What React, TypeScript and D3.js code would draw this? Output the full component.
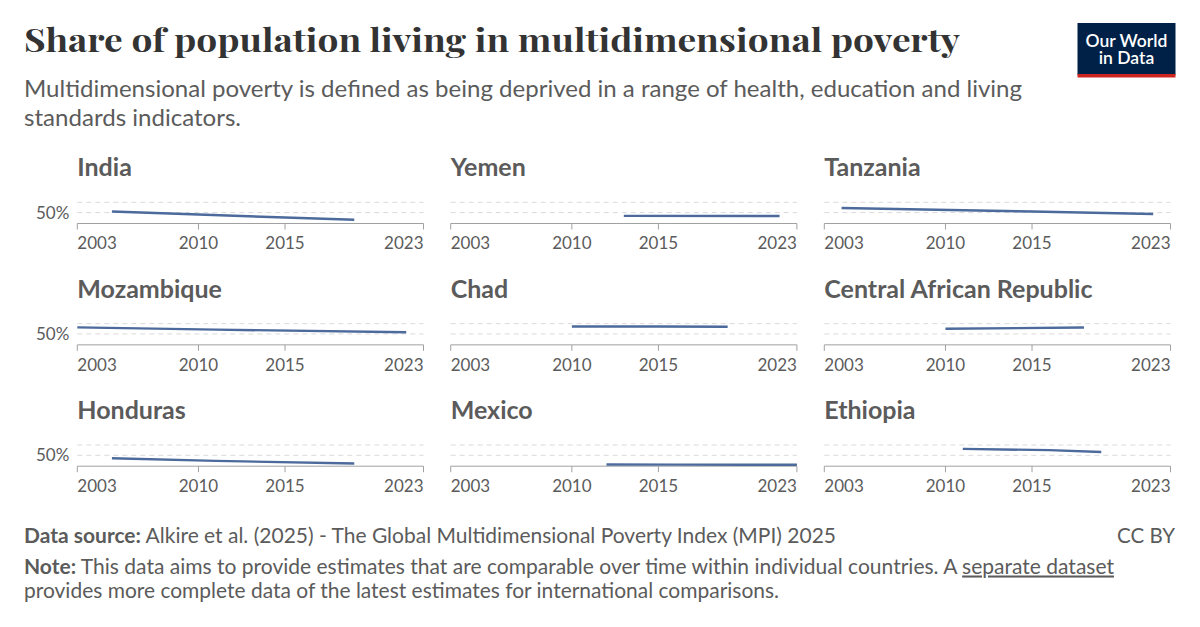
import { line, scaleLinear } from 'd3';

// country facets, in reading order
const countries = [
  'India', 'Yemen', 'Tanzania',
  'Mozambique', 'Chad', 'Central African Republic',
  'Honduras', 'Mexico', 'Ethiopia',
];

// [year, share in %]
const india = [[2005, 55], [2015, 26], [2019, 15]];
const yemen = [[2013, 34], [2022, 33.5]];
const tanzania = [[2004, 72], [2015, 55], [2022, 43]];
const mozambique = [[2003, 82], [2011, 71], [2022, 58]];
const chad = [[2010, 86.5], [2015, 86], [2019, 85]];
const car = [[2010, 75], [2018, 81]];
const honduras = [[2005, 36], [2011, 23], [2019, 10]];
const mexico = [[2012, 5], [2016, 4.5], [2020, 4.2], [2023, 4]];
const ethiopia = [[2011, 81], [2016, 75], [2019, 66]];

const seriesData = [india, yemen, tanzania, mozambique, chad, car, honduras, mexico, ethiopia];

const xTicks = [2003, 2010, 2015, 2023];
const yGrid = [50, 100];
const yLabelTicks = [50];

const W = 1200;
const H = 627;
const colX = [77.3, 450.7, 824.3];
const colW = 346.2;
const rowTop0 = 202.3;
const rowStep = 121.35;
const plotH = 20.6;

const textColor = '#5b5b5b';
const lineColor = '#4c6a9c';
const font = 'Lato, "Noto Sans", sans-serif';

const Facet = ({ idx }: { idx: number }) => {
  const col = idx % 3;
  const row = Math.floor(idx / 3);
  const top = rowTop0 + row * rowStep;
  const x = scaleLinear().domain([2003, 2023]).range([colX[col], colX[col] + colW]);
  const y = scaleLinear().domain([0, 100]).range([top + plotH, top]);
  const path = line<number[]>()
    .x((d) => x(d[0]))
    .y((d) => y(d[1]));
  const axisY = y(0) + 0.6;

  return (
    <g>
      <text x={colX[col]} y={top - 26} fontFamily={font} fontWeight={700} fontSize={25} fill={textColor}>
        {countries[idx]}
      </text>
      {yGrid.map((v) => (
        <line
          key={`g-${v}`}
          x1={colX[col]}
          x2={colX[col] + colW}
          y1={y(v)}
          y2={y(v)}
          stroke="#dadada"
          strokeDasharray="5,4"
        />
      ))}
      {col === 0 &&
        yLabelTicks.map((v) => (
          <text
            key={`yl-${v}`}
            x={colX[col] - 8}
            y={y(v)}
            dy="0.35em"
            textAnchor="end"
            fontFamily={font}
            fontSize={17}
            fill={textColor}
          >
            {v}%
          </text>
        ))}
      <line x1={colX[col]} x2={colX[col] + colW} y1={axisY} y2={axisY} stroke="#a1a1a1" />
      {xTicks.map((t, i) => (
        <g key={`t-${t}`}>
          <line x1={x(t)} x2={x(t)} y1={axisY} y2={axisY + 6} stroke="#a1a1a1" />
          <text
            x={x(t)}
            y={top + 47}
            textAnchor={i === 0 ? 'start' : i === xTicks.length - 1 ? 'end' : 'middle'}
            fontFamily={font}
            fontSize={17}
            fill={textColor}
          >
            {t}
          </text>
        </g>
      ))}
      <path d={path(seriesData[idx]) ?? ''} fill="none" stroke={lineColor} strokeWidth={2.4} />
    </g>
  );
};

export default function App() {
  return (
    <svg
      width={W}
      height={H}
      style={{ position: 'absolute', left: 0, top: 0, background: '#fff' }}
    >
      <text
        x={24}
        y={52}
        fontFamily='"Playfair Display", "Liberation Serif", serif'
        fontWeight={700}
        fontSize={32}
        fill="#333"
        textLength={936}
        lengthAdjust="spacingAndGlyphs"
      >
        Share of population living in multidimensional poverty
      </text>
      <text x={24} y={97} fontFamily={font} fontSize={23.5} fill={textColor} textLength={998} lengthAdjust="spacingAndGlyphs">
        Multidimensional poverty is defined as being deprived in a range of health, education and living
      </text>
      <text x={24} y={126} fontFamily={font} fontSize={23.5} fill={textColor} textLength={217} lengthAdjust="spacingAndGlyphs">
        standards indicators.
      </text>

      <g>
        <rect x={1077.5} y={23} width={98} height={52} fill="#002147" />
        <rect x={1077.5} y={74} width={98} height={3.5} fill="#ce261e" />
        <text textAnchor="middle" fontFamily={font} fontWeight={600} fontSize={17.5} fill="#fff">
          <tspan x={1126.5} y={47}>Our World</tspan>
          <tspan x={1126.5} y={63.5}>in Data</tspan>
        </text>
      </g>

      {countries.map((c, i) => (
        <Facet key={c} idx={i} />
      ))}

      <text x={24} y={542.5} fontFamily={font} fontSize={20.5} fill={textColor} textLength={812} lengthAdjust="spacingAndGlyphs">
        <tspan fontWeight={700}>Data source:</tspan> Alkire et al. (2025) - The Global Multidimensional Poverty Index (MPI) 2025
      </text>
      <text x={1175} y={542.5} textAnchor="end" fontFamily={font} fontSize={20.5} fill={textColor}>
        CC BY
      </text>
      <text x={24} y={573.5} fontFamily={font} fontSize={20.5} fill={textColor} textLength={1090} lengthAdjust="spacingAndGlyphs">
        <tspan fontWeight={700}>Note:</tspan> This data aims to provide estimates that are comparable over time within individual countries. A{' '}
        <tspan textDecoration="underline">separate dataset</tspan>
      </text>
      <text x={24} y={597.5} fontFamily={font} fontSize={20.5} fill={textColor} textLength={755} lengthAdjust="spacingAndGlyphs">
        provides more complete data of the latest estimates for international comparisons.
      </text>
    </svg>
  );
}
